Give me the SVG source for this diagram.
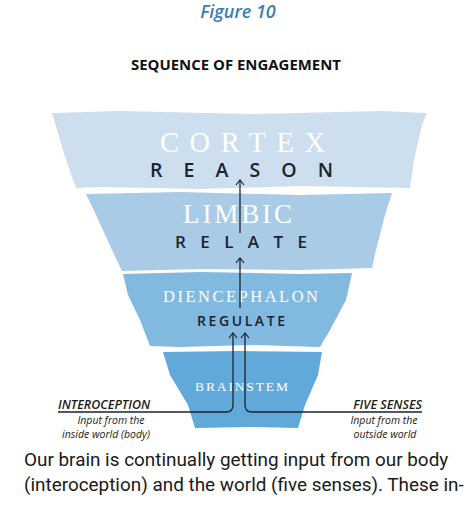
<svg xmlns="http://www.w3.org/2000/svg" width="474" height="520" viewBox="0 0 474 520">
<style>
.serif{font-family:"Liberation Serif","DejaVu Serif",serif;fill:#ffffff}
.sans{font-family:"Open Sans","Liberation Sans",sans-serif;fill:#1b2330;font-weight:600}
.lab{font-family:"Open Sans","Liberation Sans",sans-serif;font-style:italic;fill:#1a1a1a}
.conn{fill:none;stroke:#1b2330;stroke-width:1.3}
.body{font-family:Roboto,"Liberation Sans",sans-serif;font-size:18.9px;fill:#1a1a1a}
</style>
<defs>
<marker id="ah" markerWidth="10" markerHeight="10" refX="9" refY="5" orient="auto" markerUnits="userSpaceOnUse" viewBox="0 0 10 10">
<path d="M4,1 L9,5 L4,9" fill="none" stroke="#1b2330" stroke-width="1.2"/>
</marker>
</defs>
<rect width="474" height="520" fill="#ffffff"/>
<text x="238" y="18" font-family="Open Sans, Liberation Sans, sans-serif" font-style="italic" font-weight="600" font-size="18" fill="#3a7db5" text-anchor="middle">Figure 10</text>
<text x="131" y="70" font-family="Open Sans, Liberation Sans, sans-serif" font-weight="700" font-size="14" fill="#111" textLength="210" lengthAdjust="spacingAndGlyphs">SEQUENCE OF ENGAGEMENT</text>

<g id="cortex">
<path d="M52,113 L120,111 L250,114 L380,111 L427,113 L422,125 L414,160 L410,188 L300,186 L200,189 L100,187 L76,188 L66,160 Z" fill="#cddfee"/>
<text class="serif" x="160" y="152" font-size="28.5" textLength="165" lengthAdjust="spacing">CORTEX</text>
<text class="sans" x="150" y="177" font-size="19.5" textLength="183" lengthAdjust="spacing">REASON</text>
</g>
<g id="limbic">
<path d="M86,194 L180,192 L300,195 L392,193 L385,215 L376,250 L372,268 L300,270 L200,269 L122,271 L112,250 L96,215 Z" fill="#a9cbe6"/>
<text class="serif" x="183" y="223" font-size="27" textLength="109" lengthAdjust="spacing">LIMBIC</text>
<text class="sans" x="175" y="248" font-size="17" textLength="132" lengthAdjust="spacing">RELATE</text>
</g>
<g id="diencephalon">
<path d="M123,274 L200,272 L300,274 L352,273 L346,300 L330,330 L320,347 L250,345 L180,347 L150,346 L140,320 L128,295 Z" fill="#82badf"/>
<text class="serif" x="163" y="302" font-size="16.5" textLength="155" lengthAdjust="spacing">DIENCEPHALON</text>
<text class="sans" x="197" y="326" font-size="14" textLength="88" lengthAdjust="spacing">REGULATE</text>
</g>
<g id="brainstem">
<path d="M163,352 L240,351 L322,352 L318,375 L305,405 L298,428 L250,427 L195,428 L188,405 L170,375 Z" fill="#61a9d8"/>
<text class="serif" x="195" y="391" font-size="13.5" textLength="93" lengthAdjust="spacing">BRAINSTEM</text>
</g>
<g id="interoception">
<text class="lab" x="58" y="409" font-size="12.5" font-weight="600">INTEROCEPTION</text>
<text class="lab" x="111" y="424" font-size="10.5" text-anchor="middle">Input from the</text>
<text class="lab" x="106" y="438" font-size="10.5" text-anchor="middle">inside world (body)</text>
</g>
<g id="five-senses">
<text class="lab" x="422" y="409" font-size="12.5" font-weight="600" text-anchor="end">FIVE SENSES</text>
<text class="lab" x="384" y="424" font-size="10.5" text-anchor="middle">Input from the</text>
<text class="lab" x="385" y="438" font-size="10.5" text-anchor="middle">outside world</text>
</g>
<g id="connectors">
<path class="conn" d="M240,233 L240,180" marker-end="url(#ah)"/>
<path class="conn" d="M240,308 L240,258" marker-end="url(#ah)"/>
<path class="conn" d="M58,412 L226,412 Q233,412 233,405 L233,333" marker-end="url(#ah)"/>
<path class="conn" d="M422,412 L252,412 Q245,412 245,405 L245,333" marker-end="url(#ah)"/>
</g>
<text class="body" x="24" y="466">Our brain is continually getting input from our body</text>
<text class="body" x="24" y="491">(interoception) and the world (five senses). These in-</text>
</svg>
